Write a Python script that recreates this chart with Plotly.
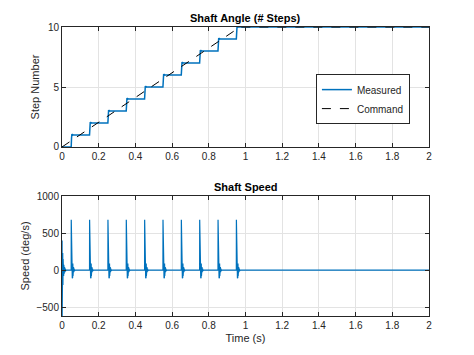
import numpy as np
import plotly.graph_objects as go
from plotly.subplots import make_subplots

# ---- data ----
step_times = [0.05, 0.15, 0.25, 0.35, 0.45, 0.55, 0.65, 0.75, 0.85, 0.95]
step_levels = [1, 2, 3, 4, 5, 6, 7, 8, 9, 10]

# measured angle response shape after each step (time offset s, fraction of step)
angle_offsets = [0.0, 0.002, 0.004, 0.006, 0.009, 0.012]
angle_shape = [0.0, 0.75, 1.08, 0.95, 1.02, 1.0]

command_t = [0.0, 0.97, 2.0]
command_v = [0.0, 10.0, 10.0]

# speed spike shape after each step (time offset s, deg/s)
spike_offsets = [0.0, 0.0004, 0.001, 0.002, 0.003, 0.004, 0.005, 0.006, 0.007,
                 0.008, 0.009, 0.010, 0.011, 0.012, 0.013, 0.014, 0.016, 0.018, 0.021]
spike_values = [0, 680, 560, 380, 240, 140, 70, -110, 120, -100, 90, -80, 60,
                -50, 40, -30, 20, -10, 0]

# initial transient at t = 0
init_t = [0.0, 0.0005, 0.001, 0.002, 0.003, 0.004, 0.005, 0.006, 0.007, 0.008,
          0.009, 0.010, 0.012, 0.014, 0.016, 0.018, 0.020, 0.023]
init_v = [0, 400, -620, 320, -300, 230, -200, 150, -120, 100, -80, 70, -50, 40,
          -30, 20, -10, 0]

t_end = 2.0

# ---- build series ----
at, av = [0.0], [0.0]
prev = 0
for ts, lvl in zip(step_times, step_levels):
    at.append(ts); av.append(prev)
    for o, s in zip(angle_offsets, angle_shape):
        at.append(ts + o); av.append(prev + s * (lvl - prev))
    prev = lvl
at.append(t_end); av.append(prev)

st, sv = list(init_t), list(init_v)
for ts in step_times:
    st.append(ts); sv.append(0)
    for o, v in zip(spike_offsets, spike_values):
        st.append(ts + o); sv.append(v)
st.append(t_end); sv.append(0)

blue = "#0072BD"
fig = make_subplots(rows=2, cols=1, vertical_spacing=0.0,
                    row_heights=[0.5, 0.5])

fig.add_trace(go.Scatter(x=at, y=av, mode="lines", name="Measured",
                         line=dict(color=blue, width=1.5)), row=1, col=1)
fig.add_trace(go.Scatter(x=command_t, y=command_v, mode="lines", name="Command",
                         line=dict(color="black", width=1, dash="dash")), row=1, col=1)
fig.add_trace(go.Scatter(x=st, y=sv, mode="lines", showlegend=False,
                         line=dict(color=blue, width=1.2)), row=2, col=1)

axcol = "#262626"
common = dict(showline=True, linecolor=axcol, linewidth=1, mirror="ticks",
              ticks="inside", ticklen=4, tickcolor=axcol, automargin=False,
              showgrid=True, gridcolor="#e3e3e3", gridwidth=1, zeroline=False,
              tickfont=dict(size=10, color=axcol, family="Liberation Sans, Arial"))

xt = [0, 0.2, 0.4, 0.6, 0.8, 1, 1.2, 1.4, 1.6, 1.8, 2]
xtl = ["0", "0.2", "0.4", "0.6", "0.8", "1", "1.2", "1.4", "1.6", "1.8", "2"]

# page body has an 8px margin, so the figure is sized/offset to compensate
fig.update_layout(
    width=466, height=347,
    margin=dict(l=54, r=45, t=19, b=39, autoexpand=False),
    paper_bgcolor="white", plot_bgcolor="white",
    font=dict(family="Liberation Sans, Arial", color=axcol),
    xaxis=dict(common, range=[0, 2], tickvals=xt, ticktext=xtl,
               domain=[0, 1], anchor="y"),
    yaxis=dict(common, range=[0, 10], tickvals=[0, 5, 10],
               domain=[0.5848, 1], anchor="x",
               title=dict(text="Step Number", font=dict(size=11), standoff=6)),
    xaxis2=dict(common, range=[0, 2], tickvals=xt, ticktext=xtl,
                domain=[0, 1], anchor="y2",
                title=dict(text="Time (s)", font=dict(size=11), standoff=4)),
    yaxis2=dict(common, range=[-620, 1000], tickvals=[-500, 0, 500, 1000],
                domain=[0, 0.4152], anchor="x2",
                title=dict(text="Speed (deg/s)", font=dict(size=11), standoff=4)),
    legend=dict(x=0.948, y=0.837, xanchor="right", yanchor="top",
                bgcolor="white", bordercolor=axcol, borderwidth=1,
                font=dict(size=10, color=axcol), tracegroupgap=0,
                itemwidth=30),
    showlegend=True,
    annotations=[
        dict(text="<b>Shaft Angle (# Steps)</b>", x=0.5, y=1, xref="paper",
             yref="paper", yanchor="bottom", showarrow=False, yshift=1,
             font=dict(size=11, color="black")),
        dict(text="<b>Shaft Speed</b>", x=0.5, y=0.4152, xref="paper",
             yref="paper", yanchor="bottom", showarrow=False, yshift=1,
             font=dict(size=11, color="black")),
    ],
)

fig.write_html("out.html")
